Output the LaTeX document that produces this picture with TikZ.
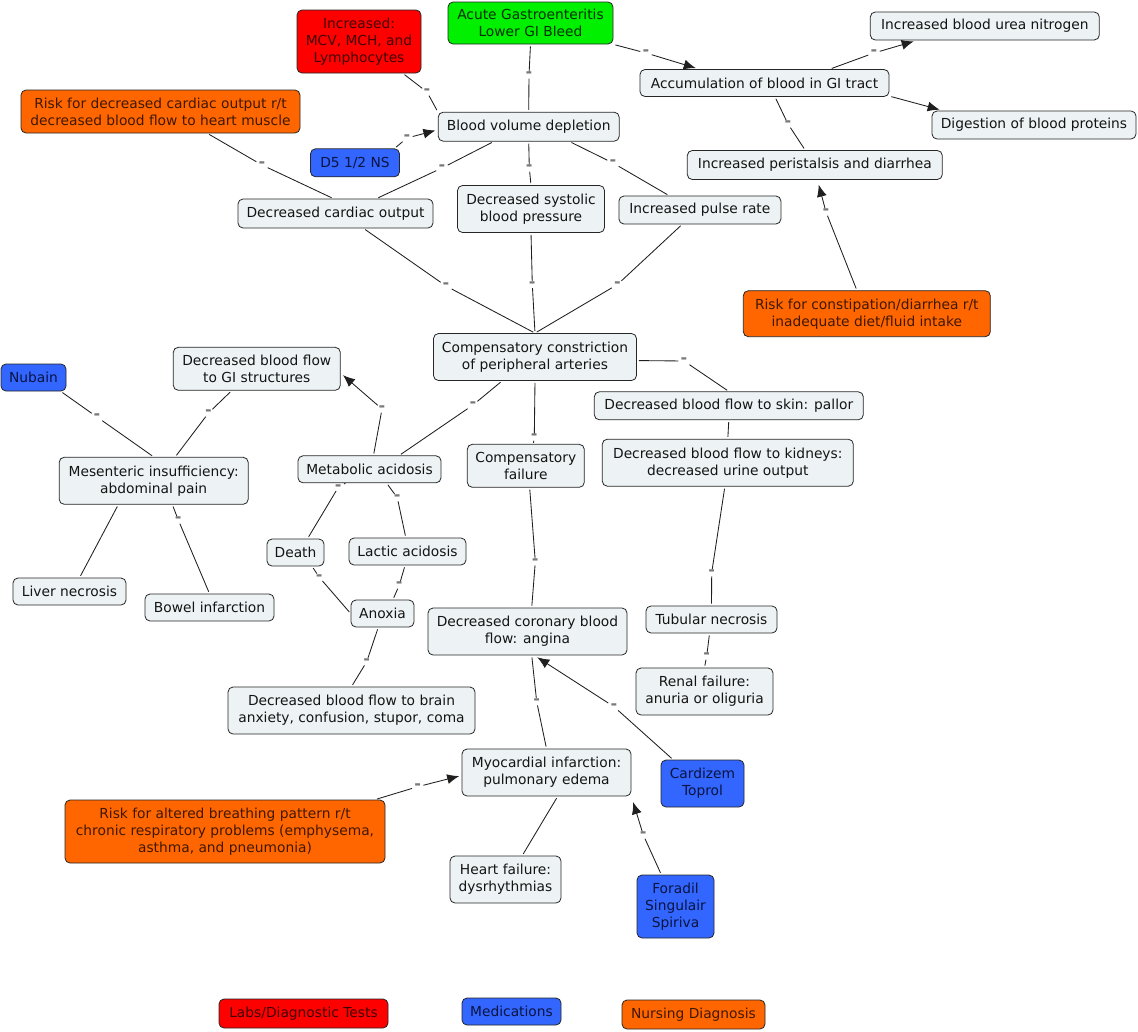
\documentclass[tikz,border=0pt]{standalone}
\usepackage{fontspec}
\setmainfont{DejaVu Sans}
\usetikzlibrary{arrows.meta}
\definecolor{cfill}{HTML}{EDF3F5}
\definecolor{labred}{HTML}{FF0000}
\definecolor{labtext}{HTML}{400000}
\definecolor{medblue}{HTML}{3366FF}
\definecolor{medtext}{HTML}{0A1440}
\definecolor{nurseorange}{HTML}{FF6600}
\definecolor{nursetext}{HTML}{401800}
\definecolor{startgreen}{HTML}{00F000}
\definecolor{starttext}{HTML}{003000}
\definecolor{lnkgray}{HTML}{7A7A7A}
\tikzset{
  concept/.style={draw=black!85, fill=cfill, rounded corners=5pt, align=center,
    inner sep=2pt, font=\fontsize{13.8}{17}\selectfont, line width=0.8pt, text=black!92},
  labsbox/.style={concept, fill=labred, text=labtext},
  medbox/.style={concept, fill=medblue, text=medtext},
  nursebox/.style={concept, fill=nurseorange, text=nursetext},
  startbox/.style={concept, fill=startgreen, text=starttext},
  lnk/.style={inner sep=0pt, minimum width=11pt, minimum height=7pt, text=lnkgray,
    font=\fontsize{16}{16}\selectfont\bfseries},
  conn/.style={draw=black!88, line width=0.85pt},
  lnkfrom/.style={conn, shorten <=2pt},
  lnkto/.style={conn, shorten >=2pt},
  lnkarrow/.style={conn, shorten >=3.5pt, -{Latex[length=12pt,width=10pt]}},
  lnkdirect/.style={conn, shorten <=2pt, shorten >=2pt},
}
\begin{document}
\begin{tikzpicture}[x=1pt,y=-1pt]
\fill[white] (0,0) rectangle (1138,1031);
\useasboundingbox (0,0) rectangle (1138,1031);

% ---------- concepts ----------
\node[labsbox, minimum width=124pt, minimum height=63pt] (labs) at (359,41.5) {Increased:\\MCV, MCH, and\\Lymphocytes};
\node[startbox, minimum width=165pt, minimum height=42pt] (acute) at (530.5,23) {Acute Gastroenteritis\\Lower GI Bleed};
\node[concept, minimum width=229pt, minimum height=28pt] (incbun) at (984.8,26) {Increased blood urea nitrogen};
\node[concept, minimum width=249pt, minimum height=27pt] (accum) at (764.5,83) {Accumulation of blood in GI tract};
\node[concept, minimum width=204pt, minimum height=28pt] (digest) at (1034,125) {Digestion of blood proteins};
\node[nursebox, minimum width=279pt, minimum height=43pt] (riskcard) at (160.5,111.5) {Risk for decreased cardiac output r/t\\decreased blood flow to heart muscle};
\node[concept, minimum width=181pt, minimum height=29pt] (bvd) at (528.7,126.7) {Blood volume depletion};
\node[medbox, minimum width=89pt, minimum height=28pt] (dfive) at (355,162.8) {D5 1/2 NS};
\node[concept, minimum width=255pt, minimum height=29pt] (peri) at (814.8,165) {Increased peristalsis and diarrhea};
\node[concept, minimum width=195pt, minimum height=29pt] (dco) at (335.5,213.5) {Decreased cardiac output};
\node[concept, minimum width=147pt, minimum height=47pt] (dsbp) at (531,209) {Decreased systolic\\blood pressure};
\node[concept, minimum width=162pt, minimum height=28pt] (ipr) at (699.9,210) {Increased pulse rate};
\node[nursebox, minimum width=247pt, minimum height=46pt] (riskcon) at (866.8,313.7) {Risk for constipation/diarrhea r/t\\inadequate diet/fluid intake};
\node[concept, minimum width=203pt, minimum height=47pt] (ccpa) at (535,357) {Compensatory constriction\\of peripheral arteries};
\node[medbox, minimum width=65pt, minimum height=27pt] (nubain) at (33.5,377.5) {Nubain};
\node[concept, minimum width=167pt, minimum height=43pt] (dbfgi) at (256.8,368.8) {Decreased blood flow\\to GI structures};
\node[concept, minimum width=269pt, minimum height=28pt] (skin) at (728.8,405.8) {Decreased blood flow to skin: pallor};
\node[concept, minimum width=189pt, minimum height=47pt] (mesen) at (153.7,480.8) {Mesenteric insufficiency:\\abdominal pain};
\node[concept, minimum width=143pt, minimum height=27pt] (metab) at (369.5,469.3) {Metabolic acidosis};
\node[concept, minimum width=117pt, minimum height=43pt] (compfail) at (525.8,465.8) {Compensatory\\failure};
\node[concept, minimum width=251pt, minimum height=47pt] (kidney) at (727.8,462.7) {Decreased blood flow to kidneys:\\decreased urine output};
\node[concept, minimum width=57pt, minimum height=27pt] (death) at (295.5,552.5) {Death};
\node[concept, minimum width=117pt, minimum height=27pt] (lactic) at (407.5,551.5) {Lactic acidosis};
\node[concept, minimum width=113pt, minimum height=27pt] (liver) at (69.5,591.5) {Liver necrosis};
\node[concept, minimum width=129pt, minimum height=27pt] (bowel) at (209.5,607.5) {Bowel infarction};
\node[concept, minimum width=63pt, minimum height=27pt] (anoxia) at (382.5,613.5) {Anoxia};
\node[concept, minimum width=199pt, minimum height=47pt] (coronary) at (527.5,631.5) {Decreased coronary blood\\flow: angina};
\node[concept, minimum width=131pt, minimum height=27pt] (tubular) at (711.5,619.5) {Tubular necrosis};
\node[concept, minimum width=137pt, minimum height=47pt] (renal) at (704.5,691.5) {Renal failure:\\anuria or oliguria};
\node[concept, minimum width=247pt, minimum height=47pt] (brain) at (351.5,710.5) {Decreased blood flow to brain\\anxiety, confusion, stupor, coma};
\node[concept, minimum width=169pt, minimum height=47pt] (mi) at (546.5,772.5) {Myocardial infarction:\\pulmonary edema};
\node[medbox, minimum width=83pt, minimum height=47pt] (cardizem) at (702.5,783.5) {Cardizem\\Toprol};
\node[nursebox, minimum width=320pt, minimum height=63pt] (riskbr) at (225,831.5) {Risk for altered breathing pattern r/t\\chronic respiratory problems (emphysema,\\asthma, and pneumonia)};
\node[concept, minimum width=111pt, minimum height=47pt] (heart) at (505.5,879.5) {Heart failure:\\dysrhythmias};
\node[medbox, minimum width=77pt, minimum height=63pt] (foradil) at (675.5,906.5) {Foradil\\Singulair\\Spiriva};

% ---------- legend ----------
\node[labsbox, minimum width=169pt, minimum height=29pt] (leglabs) at (303.5,1013.5) {Labs/Diagnostic Tests};
\node[medbox, minimum width=99pt, minimum height=27pt] (legmeds) at (511.5,1011.5) {Medications};
\node[nursebox, minimum width=143pt, minimum height=29pt] (legnurse) at (693.5,1014.5) {Nursing Diagnosis};

% ---------- linking phrases ----------
\node[lnk] (pa) at (427,92) {-};
\node[lnk] (pb) at (529,75) {-};
\node[lnk] (pc) at (646,53) {-};
\node[lnk] (pd) at (874,53) {-};
\node[lnk] (pf) at (788,124) {-};
\node[lnk] (pg) at (826,212) {-};
\node[lnk] (ph) at (407,138) {-};
\node[lnk] (pi) at (262,165) {-};
\node[lnk] (pj) at (442,168) {-};
\node[lnk] (pk) at (529.3,168) {-};
\node[lnk] (pl) at (613,163) {-};
\node[lnk] (pm) at (446,286) {-};
\node[lnk] (pn) at (532.3,284.5) {-};
\node[lnk] (po) at (617.5,284.5) {-};
\node[lnk] (pp) at (684,361) {-};
\node[lnk] (pr) at (473,405) {-};
\node[lnk] (ps) at (534.3,437) {-};
\node[lnk] (pt) at (382,409) {-};
\node[lnk] (pu) at (97,417) {-};
\node[lnk] (pv) at (208.5,413) {-};
\node[lnk] (px) at (178.3,520) {-};
\node[lnk] (py) at (338.3,487.3) {-};
\node[lnk] (pz) at (397.3,497.7) {-};
\node[lnk] (paa) at (319.3,577.3) {-};
\node[lnk] (pbb) at (399.3,585) {-};
\node[lnk] (pcc) at (366.7,661.7) {-};
\node[lnk] (pdd) at (535.3,561.7) {-};
\node[lnk] (pee) at (711.7,572.7) {-};
\node[lnk] (pff) at (706.7,656) {-};
\node[lnk] (pgg) at (614,706.7) {-};
\node[lnk] (phh) at (536.7,701.7) {-};
\node[lnk] (pii) at (417.7,786.7) {-};
\node[lnk] (pkk) at (643.3,835) {-};

% ---------- connectors ----------
\draw[lnkfrom] (labs.-36) -- (pa); \draw[lnkto] (pa) -- (bvd.north west);
\draw[lnkfrom] (acute.south) -- (pb); \draw[lnkto] (pb) -- (bvd.north);
\draw[lnkfrom] (acute.south east) -- (pc); \draw[lnkarrow] (pc) -- (accum.168);
\draw[lnkfrom] (accum.12) -- (pd); \draw[lnkarrow] (pd) -- (incbun.192);
\draw[conn, shorten <=2pt, shorten >=3.5pt, -{Latex[length=12pt,width=10pt]}] (accum.-6) -- (digest.171);
\draw[lnkfrom] (peri.123) -- (pf); \draw[lnkto] (pf) -- (accum.-53);
\draw[lnkfrom] (riskcon.113) -- (pg); \draw[lnkarrow, shorten >=5pt] (pg) -- (peri.-80);
\draw[lnkfrom] (dfive.20) -- (ph); \draw[lnkarrow, shorten >=2.5pt] (ph) -- (bvd.182);
\draw[lnkfrom] (riskcard.-25) -- (pi); \draw[lnkto] (pi) -- (dco.98);
\draw[lnkfrom] (bvd.203) -- (pj); \draw[lnkto] (pj) -- (dco.20);
\draw[lnkfrom] (bvd.south) -- (pk); \draw[lnkto] (pk) -- (dsbp.north);
\draw[lnkfrom] (bvd.-20) -- (pl); \draw[lnkto] (pl) -- (ipr.155);
\draw[lnkfrom] (dco.-28) -- (pm); \draw[lnkto] (pm) -- (ccpa.north);
\draw[lnkfrom] (dsbp.south) -- (pn); \draw[lnkto] (pn) -- (ccpa.north);
\draw[lnkfrom] (ipr.219) -- (po); \draw[lnkto] (po) -- (ccpa.north);
\draw[lnkfrom] (ccpa.-2) -- (pp); \draw[lnkto] (pp) -- (skin.north);
\draw[lnkdirect] (skin.south) -- (kidney.north);
\draw[lnkfrom] (ccpa.216) -- (pr); \draw[lnkto] (pr) -- (metab.25);
\draw[lnkfrom] (ccpa.south) -- (ps); \draw[conn, shorten >=1pt] (ps) -- (compfail.71);
\draw[lnkfrom] (metab.74) -- (pt); \draw[lnkarrow, shorten >=3pt] (pt) -- (dbfgi.-3);
\draw[lnkfrom] (nubain.-27) -- (pu); \draw[lnkto] (pu) -- (mesen.north);
\draw[lnkfrom] (dbfgi.221) -- (pv); \draw[lnkto] (pv) -- (mesen.48);
\draw[lnkdirect] (mesen.214) -- (liver.54);
\draw[lnkfrom] (mesen.-52) -- (px); \draw[lnkto] (px) -- (bowel.north);
\draw[conn] (metab.210) -- (py); \draw[lnkto] (py) -- (death.49);
\draw[lnkfrom] (metab.-39) -- (pz); \draw[lnkto] (pz) -- (lactic.97);
\draw[lnkfrom] (death.-40) -- (paa); \draw[lnkto] (paa) -- (anoxia.west);
\draw[lnkfrom] (lactic.-100) -- (pbb); \draw[lnkto] (pbb) -- (anoxia.53);
\draw[lnkfrom] (anoxia.-107) -- (pcc); \draw[lnkto] (pcc) -- (brain.north);
\draw[lnkfrom] (compfail.-80) -- (pdd); \draw[lnkto] (pdd) -- (coronary.80);
\draw[lnkfrom] (kidney.-97) -- (pee); \draw[lnkto] (pee) -- (tubular.north);
\draw[lnkfrom] (tubular.-98) -- (pff); \draw[lnkto] (pff) -- (renal.north);
\draw[lnkfrom] (cardizem.141) -- (pgg); \draw[lnkarrow] (pgg) -- (coronary.-74);
\draw[lnkfrom] (mi.north) -- (phh); \draw[lnkto] (phh) -- (coronary.-80);
\draw[lnkfrom] (riskbr.12) -- (pii); \draw[lnkarrow, shorten >=2.5pt] (pii) -- (mi.182);
\draw[lnkdirect] (mi.-65) -- (heart.55);
\draw[lnkfrom] (foradil.114) -- (pkk); \draw[lnkarrow, shorten >=6pt] (pkk) -- (mi.south east);
\end{tikzpicture}
\end{document}
